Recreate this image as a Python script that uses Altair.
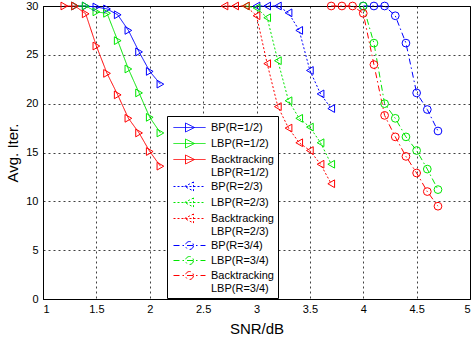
import altair as alt
import pandas as pd

series_names = [
    "BP(R=1/2)", "LBP(R=1/2)", "Backtracking LBP(R=1/2)",
    "BP(R=2/3)", "LBP(R=2/3)", "Backtracking LBP(R=2/3)",
    "BP(R=3/4)", "LBP(R=3/4)", "Backtracking LBP(R=3/4)",
]
series_rate = ["1/2", "1/2", "1/2", "2/3", "2/3", "2/3", "3/4", "3/4", "3/4"]

bp12_snr = [1.3, 1.4, 1.5, 1.6, 1.7, 1.8, 1.9, 2.0, 2.1]
bp12_iter = [30, 30, 29.9, 29.7, 29.1, 27.5, 25.3, 23.3, 22.0]
lbp12_snr = [1.3, 1.4, 1.5, 1.6, 1.7, 1.8, 1.9, 2.0, 2.1]
lbp12_iter = [30, 30, 29.4, 29.25, 26.45, 23.55, 21.1, 18.6, 17.0]
bt12_snr = [1.2, 1.3, 1.4, 1.5, 1.6, 1.7, 1.8, 1.9, 2.0, 2.1]
bt12_iter = [30, 30, 29.2, 25.9, 23.1, 20.9, 18.5, 17.0, 15.1, 13.6]

bp23_snr = [3.0, 3.1, 3.2, 3.3, 3.4, 3.5, 3.6, 3.7]
bp23_iter = [30, 30, 30, 29.3, 27.5, 23.4, 21.0, 19.5]
lbp23_snr = [2.9, 3.0, 3.1, 3.2, 3.3, 3.4, 3.5, 3.6, 3.7]
lbp23_iter = [30, 29.8, 28.8, 24.4, 20.3, 18.5, 17.6, 16.0, 13.8]
bt23_snr = [2.7, 2.8, 2.9, 3.0, 3.1, 3.2, 3.3, 3.4, 3.5, 3.6, 3.7]
bt23_iter = [30, 30, 30, 29.0, 24.1, 19.7, 17.5, 16.0, 15.2, 13.8, 11.8]

bp34_snr = [4.0, 4.1, 4.2, 4.3, 4.4, 4.5, 4.6, 4.7]
bp34_iter = [30, 30, 30, 29.0, 26.2, 21.1, 19.4, 17.2]
lbp34_snr = [4.0, 4.1, 4.2, 4.3, 4.4, 4.5, 4.6, 4.7]
lbp34_iter = [30, 26.2, 20.0, 18.5, 16.6, 15.2, 13.3, 11.2]
bt34_snr = [3.7, 3.8, 3.9, 4.0, 4.1, 4.2, 4.3, 4.4, 4.5, 4.6, 4.7]
bt34_iter = [30, 30, 30, 29.25, 24.0, 18.8, 16.6, 14.6, 12.9, 11.0, 9.5]

x_ticks = [1, 1.5, 2, 2.5, 3, 3.5, 4, 4.5, 5]
y_ticks = [0, 5, 10, 15, 20, 25, 30]

all_snr = [bp12_snr, lbp12_snr, bt12_snr, bp23_snr, lbp23_snr, bt23_snr, bp34_snr, lbp34_snr, bt34_snr]
all_iter = [bp12_iter, lbp12_iter, bt12_iter, bp23_iter, lbp23_iter, bt23_iter, bp34_iter, lbp34_iter, bt34_iter]

rows = []
for name, rate, xs, ys in zip(series_names, series_rate, all_snr, all_iter):
    for xv, yv in zip(xs, ys):
        rows.append({"series": name, "rate": rate, "snr": xv, "iter": yv})
df = pd.DataFrame(rows)

BLUE, GREEN, RED = "#0000ff", "#00e600", "#ff0000"
colors = [BLUE, GREEN, RED] * 3
SOLID, DOT, DASHDOT = [1, 0], [2, 2], [6, 3, 1.5, 3]
dashes = [SOLID] * 3 + [DOT] * 3 + [DASHDOT] * 3

# legend glyphs (unit = 7px): a 32px line segment with the marker in its middle
line_path = "M-0.714,0L3.857,0"
tri_r = "M1.0,-0.643L2.286,0L1.0,0.643Z"
tri_l = "M2.143,-0.643L0.857,0L2.143,0.643Z"
circ = "M2.143,0A0.571,0.571,0,1,1,1.0,0A0.571,0.571,0,1,1,2.143,0Z"
legend_shapes = [line_path + tri_r] * 3 + [line_path + tri_l] * 3 + [line_path + circ] * 3

FONT = "Liberation Sans"

x_enc = alt.X("snr:Q", scale=alt.Scale(domain=[1, 5], nice=False, zero=False),
              axis=alt.Axis(values=x_ticks, format="~g", title="SNR/dB"))
y_enc = alt.Y("iter:Q", scale=alt.Scale(domain=[0, 30], nice=False),
              axis=alt.Axis(values=y_ticks, format="~g", title="Avg. Iter."))
color_scale = alt.Scale(domain=series_names, range=colors)
dash_scale = alt.Scale(domain=series_names, range=dashes)
shape_scale = alt.Scale(domain=series_names, range=legend_shapes)

base = alt.Chart(df)

lines = base.mark_line(strokeWidth=1).encode(
    x=x_enc, y=y_enc,
    color=alt.Color("series:N", scale=color_scale, legend=None),
    strokeDash=alt.StrokeDash("series:N", scale=dash_scale, legend=None),
    order="snr:Q",
)

def pts(rate, shape):
    return base.transform_filter(alt.datum.rate == rate).mark_point(
        shape=shape, filled=False, size=60, strokeWidth=1, opacity=1
    ).encode(
        x=x_enc, y=y_enc,
        color=alt.Color("series:N", scale=color_scale, legend=None),
    )

leg = alt.Legend(
    title=None, orient="none", legendX=124, legendY=110,
    fillColor="white", strokeColor="black", padding=4,
    symbolSize=196, symbolStrokeWidth=1,
    labelFont=FONT, labelFontSize=11, labelColor="black",
    labelOffset=25, labelLimit=0, rowPadding=1,
    labelExpr="split(datum.label, ' ')",
)

legend_layer = base.transform_filter("false").mark_point(
    filled=False, strokeWidth=1, opacity=1
).encode(
    x=x_enc, y=y_enc,
    color=alt.Color("series:N", scale=color_scale, legend=leg),
    shape=alt.Shape("series:N", scale=shape_scale, legend=leg),
    strokeDash=alt.StrokeDash("series:N", scale=dash_scale, legend=leg),
)

chart = alt.layer(
    legend_layer,
    lines,
    pts("1/2", "triangle-right"),
    pts("2/3", "triangle-left"),
    pts("3/4", "circle"),
).properties(
    width=427, height=293,
    autosize=alt.AutoSizeParams(type="none"),
    padding={"left": 43, "top": 6, "right": 4, "bottom": 41},
).configure_view(
    stroke="black", strokeWidth=1
).configure_axis(
    grid=True, gridColor="black", gridOpacity=0.75, gridDash=[2, 3], gridWidth=1,
    domainColor="black", domainWidth=1,
    ticks=False, labelFont=FONT, labelFontSize=11, labelColor="black",
    titleFont=FONT, titleFontSize=15, titleFontWeight="normal", titleColor="black",
).configure_axisX(
    labelPadding=4, titlePadding=7,
).configure_axisY(
    labelPadding=5, titlePadding=5,
)

chart.save("out.html", embed_options={"renderer": "svg", "actions": False})
